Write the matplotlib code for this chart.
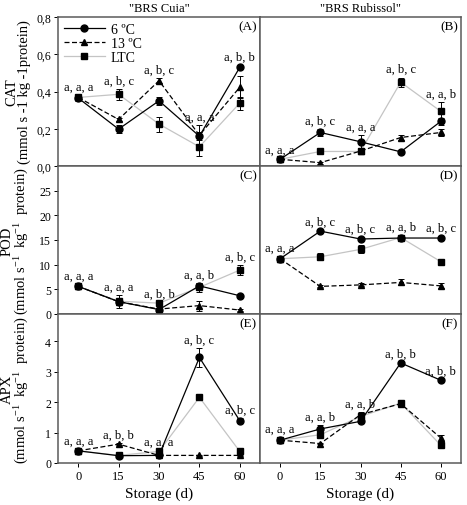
import matplotlib
matplotlib.use("Agg")
import matplotlib.pyplot as plt
from matplotlib.lines import Line2D

# ---------------- data ----------------
days = [0, 15, 30, 45, 60]
series_names = ["6 ºC", "13 ºC", "LTC"]
column_titles = ['"BRS Cuia"', '"BRS Rubissol"']
panel_letters = ["(A)", "(B)", "(C)", "(D)", "(E)", "(F)"]

# CAT - BRS Cuia (A)
cat_cuia_6 = [0.365, 0.198, 0.350, 0.160, 0.530]
cat_cuia_13 = [0.368, 0.250, 0.458, 0.165, 0.423]
cat_cuia_ltc = [0.368, 0.385, 0.225, 0.103, 0.338]
cat_cuia_6_err = [0.015, 0.020, 0.020, 0.020, 0.010]
cat_cuia_13_err = [0.010, 0.010, 0.012, 0.055, 0.060]
cat_cuia_ltc_err = [0.012, 0.030, 0.040, 0.050, 0.035]
cat_cuia_sig = ["a, a, a", "a, b, c", "a, b, c", "a, a, a", "a, b, b"]

# CAT - BRS Rubissol (B)
cat_rub_6 = [0.036, 0.180, 0.130, 0.076, 0.240]
cat_rub_13 = [0.036, 0.018, 0.080, 0.153, 0.180]
cat_rub_ltc = [0.036, 0.078, 0.078, 0.450, 0.293]
cat_rub_6_err = [0.005, 0.020, 0.035, 0.005, 0.020]
cat_rub_13_err = [0.005, 0.005, 0.010, 0.015, 0.020]
cat_rub_ltc_err = [0.005, 0.010, 0.010, 0.025, 0.050]
cat_rub_sig = ["a, a, a", "a, b, c", "a, a, a", "a, b, c", "a, a, b"]

# POD - BRS Cuia (C)
pod_cuia_6 = [5.6, 2.5, 0.9, 5.7, 3.7]
pod_cuia_13 = [5.6, 2.5, 1.0, 1.7, 0.8]
pod_cuia_ltc = [5.6, 2.6, 2.2, 5.4, 8.9]
pod_cuia_6_err = [0.5, 0.5, 0.2, 0.6, 0.2]
pod_cuia_13_err = [0.4, 0.5, 0.2, 1.0, 0.2]
pod_cuia_ltc_err = [0.4, 1.3, 0.2, 0.9, 1.0]
pod_cuia_sig = ["a, a, a", "a, a, a", "a, b, b", "a, a, b", "a, b, c"]

# POD - BRS Rubissol (D)
pod_rub_6 = [11.2, 16.8, 15.2, 15.4, 15.4]
pod_rub_13 = [11.2, 5.6, 5.9, 6.4, 5.7]
pod_rub_ltc = [11.2, 11.6, 13.1, 15.5, 10.6]
pod_rub_6_err = [0.6, 0.3, 0.4, 0.3, 0.3]
pod_rub_13_err = [0.6, 0.2, 0.3, 0.6, 0.5]
pod_rub_ltc_err = [0.6, 0.7, 0.8, 0.4, 0.4]
pod_rub_sig = ["a, a, a", "a, b, c", "a, b, c", "a, a, b", "a, b, c"]

# APX - BRS Cuia (E)
apx_cuia_6 = [0.40, 0.24, 0.25, 3.47, 1.39]
apx_cuia_13 = [0.40, 0.62, 0.25, 0.25, 0.25]
apx_cuia_ltc = [0.40, 0.25, 0.38, 2.16, 0.38]
apx_cuia_6_err = [0.05, 0.03, 0.03, 0.30, 0.08]
apx_cuia_13_err = [0.05, 0.03, 0.02, 0.02, 0.02]
apx_cuia_ltc_err = [0.05, 0.03, 0.05, 0.05, 0.10]
apx_cuia_sig = ["a, a, a", "a, b, b", "a, a, a", "a, b, c", "a, b, c"]

# APX - BRS Rubissol (F)
apx_rub_6 = [0.75, 1.12, 1.37, 3.29, 2.72]
apx_rub_13 = [0.75, 0.64, 1.59, 1.95, 0.82]
apx_rub_ltc = [0.75, 0.93, 1.53, 1.97, 0.58]
apx_rub_6_err = [0.10, 0.12, 0.05, 0.04, 0.04]
apx_rub_13_err = [0.10, 0.03, 0.08, 0.06, 0.10]
apx_rub_ltc_err = [0.10, 0.05, 0.08, 0.08, 0.05]
apx_rub_sig = ["a, a, a", "a, a, b", "a, a, b", "a, b, b", "a, b, b"]

cat_ticks = [0.0, 0.2, 0.4, 0.6, 0.8]
cat_ticklabels = ["0,0", "0,2", "0,4", "0,6", "0,8"]
pod_ticks = [0, 5, 10, 15, 20, 25]
apx_ticks = [0, 1, 2, 3, 4]

ylabels = ["CAT\n(mmol s -1 kg -1protein)",
           "POD\n(mmol s$^{-1}$  kg$^{-1}$  protein)",
           "APX\n(mmol s$^{-1}$  kg$^{-1}$  protein)"]
xlabel = "Storage (d)"

# ---------------- style ----------------
plt.rcParams["font.family"] = ["Liberation Serif", "DejaVu Serif"]
plt.rcParams["mathtext.default"] = "regular"

fig = plt.figure(figsize=(4.67, 5.06), dpi=100)
W, H = 467.0, 506.0
x_edges = [58, 260, 461]
y_edges = [18, 167, 315, 464]

spine_col = "#5a5a5a"
styles = [
    dict(color="black", ls="-", marker="o", ms=5.0, z=4),
    dict(color="black", ls=(0, (4, 2)), marker="^", ms=5.0, z=3),
    dict(color="#c4c4c4", ls="-", marker="s", ms=4.6, z=2),
]

panels = [
    ([cat_cuia_6, cat_cuia_13, cat_cuia_ltc], [cat_cuia_6_err, cat_cuia_13_err, cat_cuia_ltc_err], cat_cuia_sig),
    ([cat_rub_6, cat_rub_13, cat_rub_ltc], [cat_rub_6_err, cat_rub_13_err, cat_rub_ltc_err], cat_rub_sig),
    ([pod_cuia_6, pod_cuia_13, pod_cuia_ltc], [pod_cuia_6_err, pod_cuia_13_err, pod_cuia_ltc_err], pod_cuia_sig),
    ([pod_rub_6, pod_rub_13, pod_rub_ltc], [pod_rub_6_err, pod_rub_13_err, pod_rub_ltc_err], pod_rub_sig),
    ([apx_cuia_6, apx_cuia_13, apx_cuia_ltc], [apx_cuia_6_err, apx_cuia_13_err, apx_cuia_ltc_err], apx_cuia_sig),
    ([apx_rub_6, apx_rub_13, apx_rub_ltc], [apx_rub_6_err, apx_rub_13_err, apx_rub_ltc_err], apx_rub_sig),
]
ylims = [(0, 0.8), (0, 30), (0, 4.9)]
yticks = [cat_ticks, pod_ticks, apx_ticks]

axes = []
for i, (vals, errs, sig) in enumerate(panels):
    row, col = divmod(i, 2)
    l = x_edges[col] / W
    r = x_edges[col + 1] / W
    t = 1 - y_edges[row] / H
    b = 1 - y_edges[row + 1] / H
    ax = fig.add_axes([l, b, r - l, t - b])
    axes.append(ax)
    for s, v, e in zip(styles, vals, errs):
        ax.errorbar(days, v, yerr=e, color=s["color"], ls=s["ls"], lw=0.9,
                    marker=s["marker"], ms=s["ms"], mfc="black", mec="black",
                    ecolor="black", elinewidth=0.7, capsize=2, capthick=0.7,
                    zorder=s["z"])
    for k, d in enumerate(days):
        top = max(v[k] + e[k] for v, e in zip(vals, errs))
        ax.annotate(sig[k], (d, top), xytext=(0, 6), textcoords="offset points",
                    ha="center", va="center", fontsize=9, clip_on=False,
                    annotation_clip=False, zorder=6)
    ax.set_xlim(-7.5, 67.5)
    ax.set_ylim(*ylims[row])
    ax.set_xticks(days)
    ax.set_yticks(yticks[row])
    for sp in ax.spines.values():
        sp.set_color(spine_col)
        sp.set_linewidth(1.1)
    ax.tick_params(axis="both", direction="out", length=3, width=0.7,
                   colors="black", labelsize=8.5, pad=2)
    if col == 1:
        ax.tick_params(axis="y", left=False, labelleft=False)
    else:
        ax.set_ylabel(ylabels[row], fontsize=10.5, linespacing=0.95)
        ax.yaxis.set_label_coords(-0.133, 0.5)
    if row < 2:
        ax.tick_params(axis="x", bottom=False, labelbottom=False)
    else:
        ax.set_xlabel(xlabel, fontsize=11, labelpad=3)
        ax.tick_params(axis="x", labelsize=9)
    if row == 0 and col == 0:
        ax.set_yticklabels(cat_ticklabels)
    ax.text(0.985, 0.975, panel_letters[i], transform=ax.transAxes,
            ha="right", va="top", fontsize=9.5)

# legend in panel A
handles = [Line2D([0], [0], color=s["color"], ls=s["ls"], lw=0.9, marker=s["marker"],
                  ms=s["ms"], mfc="black", mec="black") for s in styles]
axes[0].legend(handles, series_names, loc="upper left", frameon=False, fontsize=10,
               handlelength=3.0, handletextpad=0.4, labelspacing=0.1,
               borderaxespad=0.2, borderpad=0.2)

# column titles
for col, title in enumerate(column_titles):
    xc = (x_edges[col] + x_edges[col + 1]) / 2 / W
    fig.text(xc, 1 - 9.5 / H, title, ha="center", va="center", fontsize=9)

fig.savefig("out.png", dpi=100)
